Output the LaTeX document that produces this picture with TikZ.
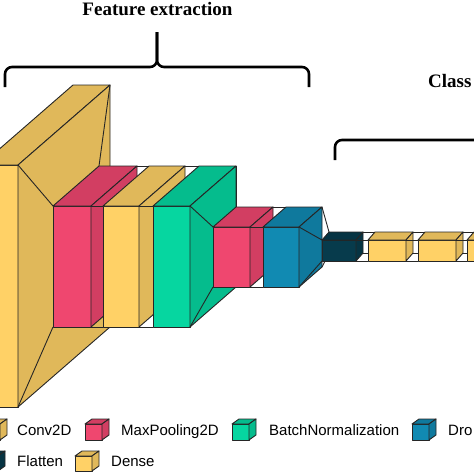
\documentclass[tikz,border=0pt]{standalone}
\usepackage{fontspec}
\setmainfont{Liberation Serif}
\newfontfamily\legendfont{Liberation Sans}
\definecolor{convcol}{HTML}{FFD166}
\definecolor{poolcol}{HTML}{EF476F}
\definecolor{bncol}{HTML}{06D6A0}
\definecolor{dropcol}{HTML}{118AB2}
\definecolor{flatcol}{HTML}{073B4C}
\definecolor{densecol}{HTML}{FFD166}

% corners of a layer box: name, x1, x2, y1, y2, dx, dy
\newcommand{\boxcorners}[7]{%
  \coordinate (#1-ftl) at (#2,#4);
  \coordinate (#1-ftr) at (#3,#4);
  \coordinate (#1-fbl) at (#2,#5);
  \coordinate (#1-fbr) at (#3,#5);
  \coordinate (#1-btl) at (#2+#6,#4-#7);
  \coordinate (#1-btr) at (#3+#6,#4-#7);
  \coordinate (#1-bbl) at (#2+#6,#5-#7);
  \coordinate (#1-bbr) at (#3+#6,#5-#7);
}
% faces of a layer box: name, colour
\newcommand{\boxfaces}[2]{%
  \filldraw[boxedge, fill=#2] (#1-ftl) rectangle (#1-fbr);
  \filldraw[boxedge, fill=#2!88!black] (#1-ftl) -- (#1-btl) -- (#1-btr) -- (#1-ftr) -- cycle;
  \filldraw[boxedge, fill=#2!88!black] (#1-ftr) -- (#1-btr) -- (#1-bbr) -- (#1-fbr) -- cycle;
}
% funnel lines between two layers
\newcommand{\funnel}[2]{%
  \draw[funnelline] (#1-btr) -- (#2-btl);
  \draw[funnelline] (#1-bbr) -- (#2-bbl);
  \draw[funnelline] (#1-fbr) -- (#2-fbl);
  \draw[funnelline] (#1-ftr) -- (#2-ftl);
}

\begin{document}
\begin{tikzpicture}[x=1pt,y=-1pt,
    boxedge/.style={draw=black!85, line width=0.9pt, line join=round},
    funnelline/.style={draw=black!85, line width=0.9pt},
    bracket/.style={line width=2.6pt, rounded corners=7pt},
    titletext/.style={inner sep=0pt, font=\bfseries\fontsize{19}{19}\selectfont},
    legtext/.style={anchor=base west, inner sep=0pt, font=\legendfont\fontsize{15}{15}\selectfont}]
  \useasboundingbox (0,0) rectangle (474,474);
  \clip (0,0) rectangle (474,474);

  % layers
  \boxcorners{conva}{-19}{18}{165}{407}{92}{80}
  \boxcorners{poola}{53}{91}{206}{327}{46}{40}
  \boxcorners{convb}{103}{139}{206}{327}{46}{40}
  \boxcorners{bn}{153}{190}{206}{327}{46}{40}
  \boxcorners{poolb}{213}{250}{227}{287}{23}{20}
  \boxcorners{drop}{263}{299}{227}{287}{23}{20}
  \boxcorners{flat}{322}{356}{240}{261}{7}{8}
  \boxcorners{densea}{368}{406}{240}{261}{7}{8}
  \boxcorners{denseb}{418}{456}{240}{261}{7}{8}
  \boxcorners{densec}{467}{505}{240}{261}{7}{8}

  \boxfaces{conva}{convcol}
  \foreach \prev/\cur/\col in {conva/poola/poolcol, poola/convb/convcol,
      convb/bn/bncol, bn/poolb/poolcol, poolb/drop/dropcol, drop/flat/flatcol,
      flat/densea/densecol, densea/denseb/densecol, denseb/densec/densecol}
    {\funnel{\prev}{\cur}\boxfaces{\cur}{\col}}

  % brackets and titles
  \draw[bracket] (5,87) -- (5,67) -- (157,67) -- (157,32);
  \draw[bracket] (309,87) -- (309,67) -- (157,67) -- (157,32);
  \node[titletext, anchor=base] (feattitle) at (157.5,15) {Feature extraction};
  \draw[bracket] (335,160) -- (335,140) -- (483,140) -- (483,105);
  \node[titletext, anchor=base west] (classtitle) at (428,87) {Class};

  % legend
  \boxcorners{lconv}{-17}{0}{424}{440}{7}{5}
  \boxcorners{lpool}{85}{102}{424}{440}{7}{5}
  \boxcorners{lbn}{232}{249}{424}{440}{7}{5}
  \boxcorners{ldrop}{412}{429}{424}{440}{7}{5}
  \boxcorners{lflat}{-19}{-2}{456}{471}{7}{5}
  \boxcorners{ldense}{75}{92}{456}{471}{7}{5}
  \boxfaces{lconv}{convcol}
  \boxfaces{lpool}{poolcol}
  \boxfaces{lbn}{bncol}
  \boxfaces{ldrop}{dropcol}
  \boxfaces{lflat}{flatcol}
  \boxfaces{ldense}{densecol}
  \node[legtext] (tconv) at (17,435) {Conv2D};
  \node[legtext] (tpool) at (121,435) {MaxPooling2D};
  \node[legtext] (tbn) at (269,435) {BatchNormalization};
  \node[legtext] (tdrop) at (448,435) {Dro};
  \node[legtext] (tflat) at (17,466) {Flatten};
  \node[legtext] (tdense) at (111,466) {Dense};
\end{tikzpicture}
\end{document}
